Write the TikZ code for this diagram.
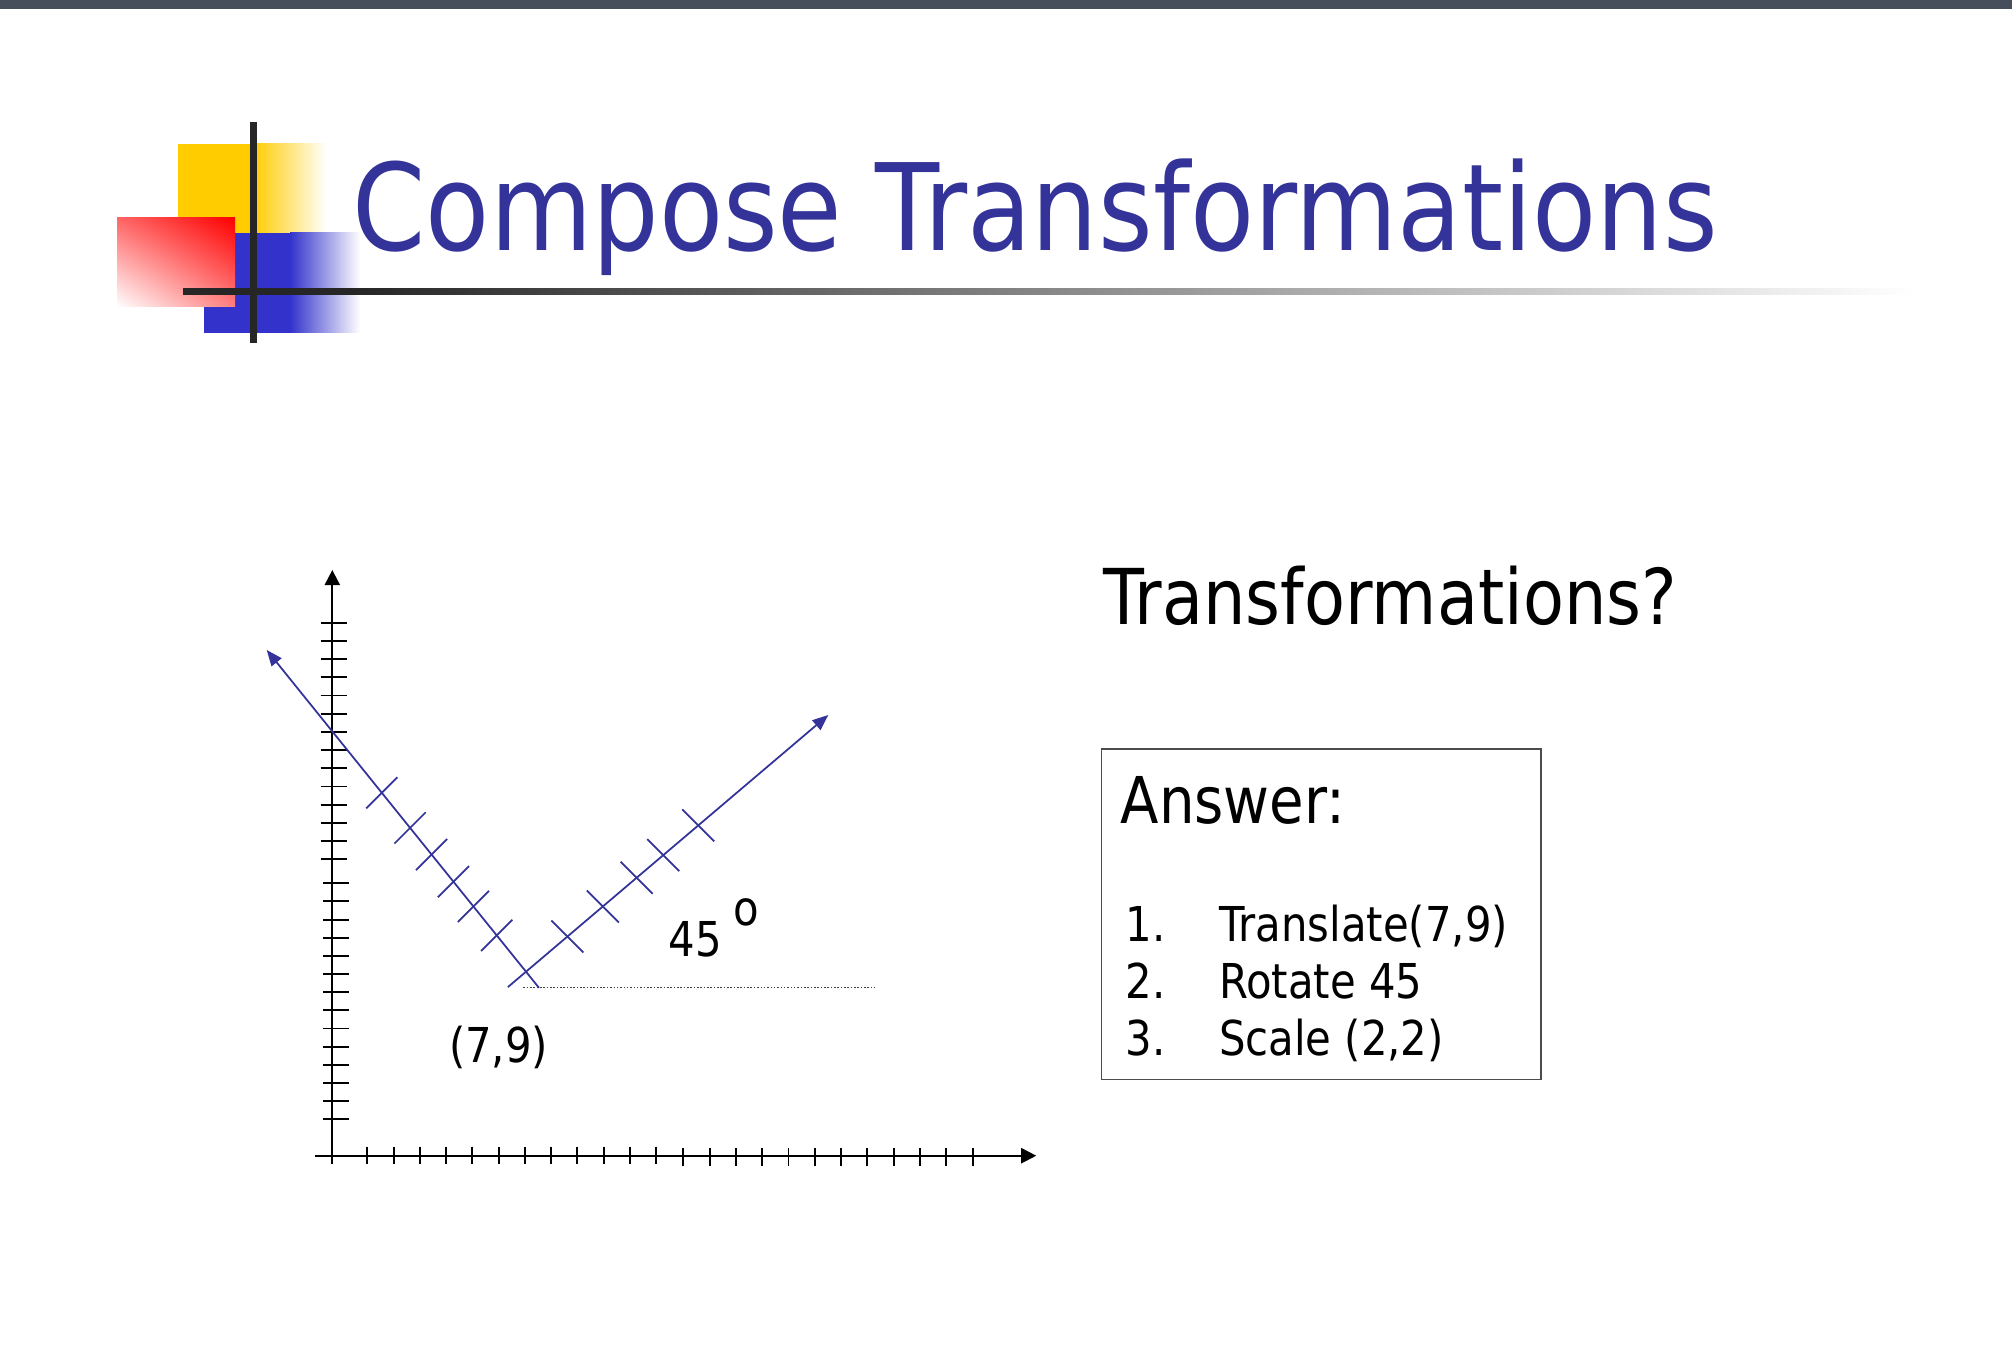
\documentclass[tikz,border=0pt]{standalone}
\usepackage{fontspec}
\setmainfont{DejaVu Sans}[FakeStretch=0.87]
\usetikzlibrary{calc,arrows.meta,shadings}

\definecolor{titleblue}{HTML}{333399}
\definecolor{barcolor}{HTML}{464E5C}
\definecolor{logoyellow}{HTML}{FFCC00}
\definecolor{logoblue}{HTML}{3333CC}
\definecolor{logodark}{HTML}{262626}

\tikzset{
  axisline/.style={line width=0.55pt, black},
  vline/.style={line width=0.5pt, titleblue},
  dotline/.style={line width=0.45pt, black!75, dash pattern=on 0.45pt off 0.5pt},
  txt/.style={anchor=base west, inner sep=0pt, font=\fontsize{13.66}{16}\selectfont},
}

\begin{document}
\begin{tikzpicture}[x=0.01cm, y=-0.01cm]
        % 画布和顶部横条
        \useasboundingbox (0,0) rectangle (2012,1370);
        \fill[white] (0,0) rectangle (2012,1370);
        \fill[barcolor] (0,0) rectangle (2012,9.3);

        % 标志
        \fill[logoyellow] (178,144) rectangle (253,233);
        \shade[left color=logoyellow, right color=white] (253,144) rectangle (327,233);
        \fill[logoblue] (204,233) rectangle (290,333);
        \shade[left color=logoblue, right color=white] (290,233) rectangle (360,333);
        \shade[upper right=red, upper left=red!60!white, lower right=red!50!white, lower left=white] (117,218) rectangle (235,307);
        \fill[logodark] (183,288.3) rectangle (350,295);
        \shade[left color=logodark, right color=white] (350,288.3) rectangle (1913,295);
        \fill[logodark] (249.5,122) rectangle (256.5,343);

        % 标题
        \node[txt, font=\fontsize{34.3}{40}\selectfont, text=titleblue] (title) at (352,250.7) {Compose Transformations};

        % 坐标轴
        \coordinate (O) at (332.3,1155.7);
        \coordinate (xend) at (1036.3,1155.7);
        \coordinate (yend) at (332.3,570);
        \draw[axisline, -{Triangle[length=4.3pt,width=4.3pt]}] (315,1155.7) -- (xend);
        \draw[axisline, -{Triangle[length=4.3pt,width=4.3pt]}] ($(O)+(0,8)$) -- (yend);

        % 刻度
        \foreach \i in {0,...,13}
            {
                \draw[axisline] (320.7,622.7+18.2*\i) -- ++(26,0);
                \draw[axisline] (323,883.3+18.15*\i) -- ++(26,0);
            }
        \foreach \i in {0,...,11}
            {
                \draw[axisline] (367.3+26.25*\i,1146.7) -- ++(0,17.6);
                \draw[axisline] (683.3+26.3*\i,1148) -- ++(0,18);
            }

        % 变换后的坐标轴
        \coordinate (V) at (526,971.7);
        \coordinate (L) at (266.7,650);
        \coordinate (R) at (828.3,715);
        \draw[vline, -{Triangle[length=4.5pt,width=3.6pt]}] ($(V)!-0.05!(L)$) -- (L);
        \draw[vline, -{Triangle[length=4.5pt,width=3.6pt]}] ($(V)!-0.06!(R)$) -- (R);
        \foreach \t in {0.113,0.203,0.280,0.364,0.447,0.556}
            \draw[vline] ($(V)!\t!(L)$) ++(-15.6,15.6) -- ++(31.2,-31.2);
        \foreach \t in {0.137,0.254,0.366,0.454,0.570}
            \draw[vline] ($(V)!\t!(R)$) ++(-16,-16) -- ++(32,32);

        % 角度和点
        \draw[dotline] (523.3,987.7) -- (875,987.7);
        \node[txt] (ang) at (668,956.7) {45};
        \node[txt] (deg) at (732.5,925) {o};
        \node[txt] (pt) at (448.3,1062.3) {(7,9)};

        % 右侧问题和答案
        \node[txt, font=\fontsize{21.9}{26}\selectfont] (question) at (1103,624) {Transformations?};
        \node[draw=black!70, line width=0.5pt, minimum width=4.39cm, minimum height=3.3cm, inner sep=0pt] (box) at (1321.2,914.3) {};
        \node[txt, font=\fontsize{18.35}{22}\selectfont] (answer) at (1120,823.3) {Answer:};
        \foreach \n/\s/\yy in {1/{Translate(7,9)}/941.7, 2/{Rotate 45}/998.3, 3/{Scale (2,2)}/1055}
            {
                \node[txt] (num\n) at (1125,\yy) {\n.};
                \node[txt] (step\n) at (1218.3,\yy) {\s};
            }

    \end{tikzpicture}
\end{document}
